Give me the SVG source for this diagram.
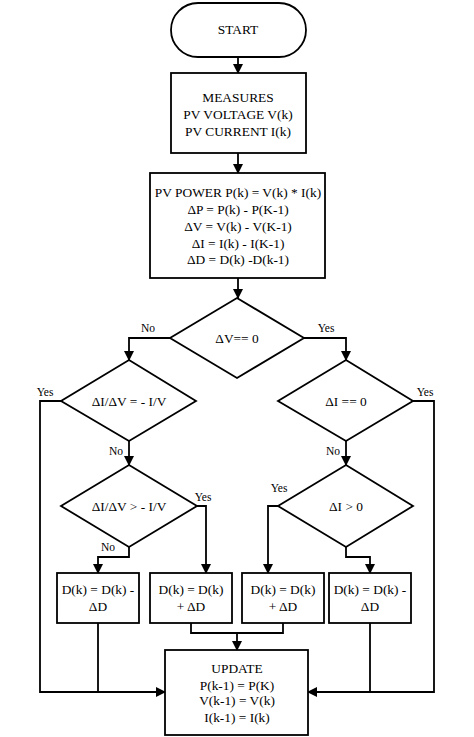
<svg xmlns="http://www.w3.org/2000/svg" width="474" height="737" viewBox="0 0 474 737" font-family="Liberation Serif, Times New Roman, DejaVu Serif, serif">
<style>
.s{fill:#fff;stroke:#000;stroke-width:1.8}
.c{fill:none;stroke:#000;stroke-width:1.8}
text{font-family:'Liberation Serif','Times New Roman','DejaVu Serif',serif;font-size:13.4px;fill:#000;text-anchor:middle;font-weight:normal}
.l{font-size:11.5px}
</style>
<defs>
<marker id="a" markerWidth="10" markerHeight="10" refX="9" refY="5" orient="auto" markerUnits="userSpaceOnUse">
<path d="M0,0 L10,5 L0,10 Z" fill="#000"/>
</marker>
</defs>
<rect width="474" height="737" fill="#fff"/>
<g id="connectors">
<path class="c" d="M238,57 V73" marker-end="url(#a)"/>
<path class="c" d="M238,153 V173" marker-end="url(#a)"/>
<path class="c" d="M238,278 V298" marker-end="url(#a)"/>
<path class="c" d="M170,338 H129 V360" marker-end="url(#a)"/>
<path class="c" d="M304,338 H346 V360" marker-end="url(#a)"/>
<path class="c" d="M129,441 V465" marker-end="url(#a)"/>
<path class="c" d="M346,441 V465" marker-end="url(#a)"/>
<path class="c" d="M61,401 H40 V692 H165" marker-end="url(#a)"/>
<path class="c" d="M413,401 H434 V692 H308" marker-end="url(#a)"/>
<path class="c" d="M129,547 V557 H98 V573" marker-end="url(#a)"/>
<path class="c" d="M197,506 H206 V573" marker-end="url(#a)"/>
<path class="c" d="M278,506 H268 V573" marker-end="url(#a)"/>
<path class="c" d="M346,547 V557 H370 V573" marker-end="url(#a)"/>
<path class="c" d="M98,623 V692"/>
<path class="c" d="M370,623 V692"/>
<path class="c" d="M191,623 V633 H283 V623"/>
<path class="c" d="M237,633 V650" marker-end="url(#a)"/>
<text class="l" x="148" y="332">No</text>
<text class="l" x="326" y="332">Yes</text>
<text class="l" x="45" y="396">Yes</text>
<text class="l" x="425" y="396">Yes</text>
<text class="l" x="116" y="455">No</text>
<text class="l" x="333" y="455">No</text>
<text class="l" x="108" y="551">No</text>
<text class="l" x="203" y="501">Yes</text>
<text class="l" x="279" y="492">Yes</text>
</g>
<g id="start">
<rect class="s" x="171" y="3" width="135" height="54" rx="27"/>
<text x="238" y="34">START</text>
</g>
<g id="measures">
<rect class="s" x="171" y="73" width="135" height="80"/>
<text x="238" y="102">MEASURES</text>
<text x="238" y="119">PV VOLTAGE V(k)</text>
<text x="238" y="136">PV CURRENT I(k)</text>
</g>
<g id="compute">
<rect class="s" x="150" y="173" width="175" height="105"/>
<text x="238" y="197">PV POWER P(k) = V(k) * I(k)</text>
<text x="238" y="214">ΔP = P(k) - P(K-1)</text>
<text x="238" y="231">ΔV = V(k) - V(K-1)</text>
<text x="238" y="248">ΔI = I(k) - I(K-1)</text>
<text x="238" y="264">ΔD = D(k) -D(k-1)</text>
</g>
<g id="dv">
<path class="s" d="M237,298 L304,338 L237,378 L170,338 Z"/>
<text x="237" y="343">ΔV== 0</text>
</g>
<g id="d1">
<path class="s" d="M129,360 L196,401 L129,441 L61,401 Z"/>
<text x="129" y="406">ΔI/ΔV = - I/V</text>
</g>
<g id="d2">
<path class="s" d="M346,360 L413,401 L346,441 L278,401 Z"/>
<text x="346" y="406">ΔI == 0</text>
</g>
<g id="d3">
<path class="s" d="M129,465 L197,506 L129,547 L61,506 Z"/>
<text x="129" y="511">ΔI/ΔV &gt; - I/V</text>
</g>
<g id="d4">
<path class="s" d="M346,465 L413,506 L346,547 L278,506 Z"/>
<text x="346" y="511">ΔI &gt; 0</text>
</g>
<g id="b1">
<rect class="s" x="57" y="573" width="82" height="50"/>
<text x="98" y="594">D(k) = D(k) -</text>
<text x="98" y="611">ΔD</text>
</g>
<g id="b2">
<rect class="s" x="150" y="573" width="82" height="50"/>
<text x="191" y="594">D(k) = D(k)</text>
<text x="191" y="611">+ ΔD</text>
</g>
<g id="b3">
<rect class="s" x="242" y="573" width="82" height="50"/>
<text x="283" y="594">D(k) = D(k)</text>
<text x="283" y="611">+ ΔD</text>
</g>
<g id="b4">
<rect class="s" x="329" y="573" width="82" height="50"/>
<text x="370" y="594">D(k) = D(k) -</text>
<text x="370" y="611">ΔD</text>
</g>
<g id="update">
<rect class="s" x="165" y="650" width="143" height="85"/>
<text x="237" y="673">UPDATE</text>
<text x="237" y="690">P(k-1) = P(K)</text>
<text x="237" y="705">V(k-1) = V(k)</text>
<text x="237" y="722">I(k-1) = I(k)</text>
</g>
</svg>
